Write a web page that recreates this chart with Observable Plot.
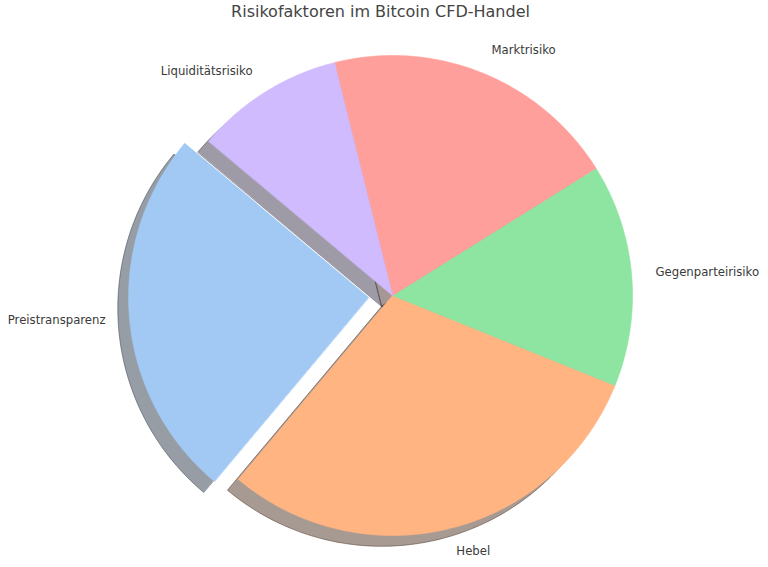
<!DOCTYPE html>
<html><head><meta charset="utf-8">
<script src="https://cdn.jsdelivr.net/npm/d3@7"></script>
<script src="https://cdn.jsdelivr.net/npm/@observablehq/plot@0.6"></script>
<style>body{margin:0;background:#fff;} svg{display:block;}</style>
</head><body><div id="chart"></div>
<script>
const title = "Risikofaktoren im Bitcoin CFD-Handel";
const labels = ["Preistransparenz", "Hebel", "Gegenparteirisiko", "Marktrisiko", "Liquiditätsrisiko"];
const sizes = [25, 30, 15, 20, 10];
const colors = ["#a1c9f4", "#ffb482", "#8de5a1", "#ff9f9b", "#d0bbff"];
const explode = [0.1, 0, 0, 0, 0];
const startAngle = 140;

const total = d3.sum(sizes);
const slices = [];
let a = startAngle;
labels.forEach((label, i) => {
  const span = sizes[i] / total * 360;
  const a0 = a, a1 = a + span, mid = (a0 + a1) / 2;
  const mr = mid * Math.PI / 180;
  const cx = explode[i] * Math.cos(mr), cy = explode[i] * Math.sin(mr);
  const pts = [{label, x: cx, y: cy}];
  const n = Math.max(2, Math.ceil(span));
  for (let k = 0; k <= n; k++) {
    const t = (a0 + (a1 - a0) * k / n) * Math.PI / 180;
    pts.push({label, x: cx + Math.cos(t), y: cy + Math.sin(t)});
  }
  slices.push({label, color: colors[i], pts,
    lx: cx + 1.1 * Math.cos(mr), ly: cy + 1.1 * Math.sin(mr)});
  a = a1;
});

const so = 0.045; // shadow offset
const shadowMarks = slices.map(s => {
  const c = d3.rgb(s.color);
  const sc = d3.rgb(c.r * 0.3, c.g * 0.3, c.b * 0.3).formatHex();
  return Plot.line(s.pts, {x: d => d.x - so, y: d => d.y - so, fill: sc, fillOpacity: 0.5,
    stroke: sc, strokeOpacity: 0.5, strokeWidth: 1, curve: "linear-closed"});
});

const chart = Plot.plot({
  width: 768, height: 567,
  margin: 0,
  x: {domain: [-1, 1], range: [152, 632], axis: null},
  y: {domain: [-1, 1], range: [535, 55], axis: null},
  color: {domain: labels, range: colors},
  style: {fontFamily: "DejaVu Sans", background: "#fff"},
  marks: [
    ...shadowMarks,
    Plot.line(slices.flatMap(s => s.pts), {x: "x", y: "y", z: "label", fill: "label", stroke: "label",
      strokeWidth: 0.6, curve: "linear-closed"}),
    Plot.text(slices.filter(d => d.lx > 0), {x: "lx", y: "ly", text: "label",
      textAnchor: "start", lineAnchor: "middle", fontSize: 11.7, fill: "#3a3a3a"}),
    Plot.text(slices.filter(d => d.lx <= 0), {x: "lx", y: "ly", text: "label",
      textAnchor: "end", lineAnchor: "middle", fontSize: 11.7, fill: "#3a3a3a"}),
    Plot.text([title], {frameAnchor: "top", dy: 5, dx: -4, lineAnchor: "top", text: d => d,
      fontSize: 16, fill: "#444444"})
  ]
});
document.getElementById("chart").append(chart);
</script></body></html>
